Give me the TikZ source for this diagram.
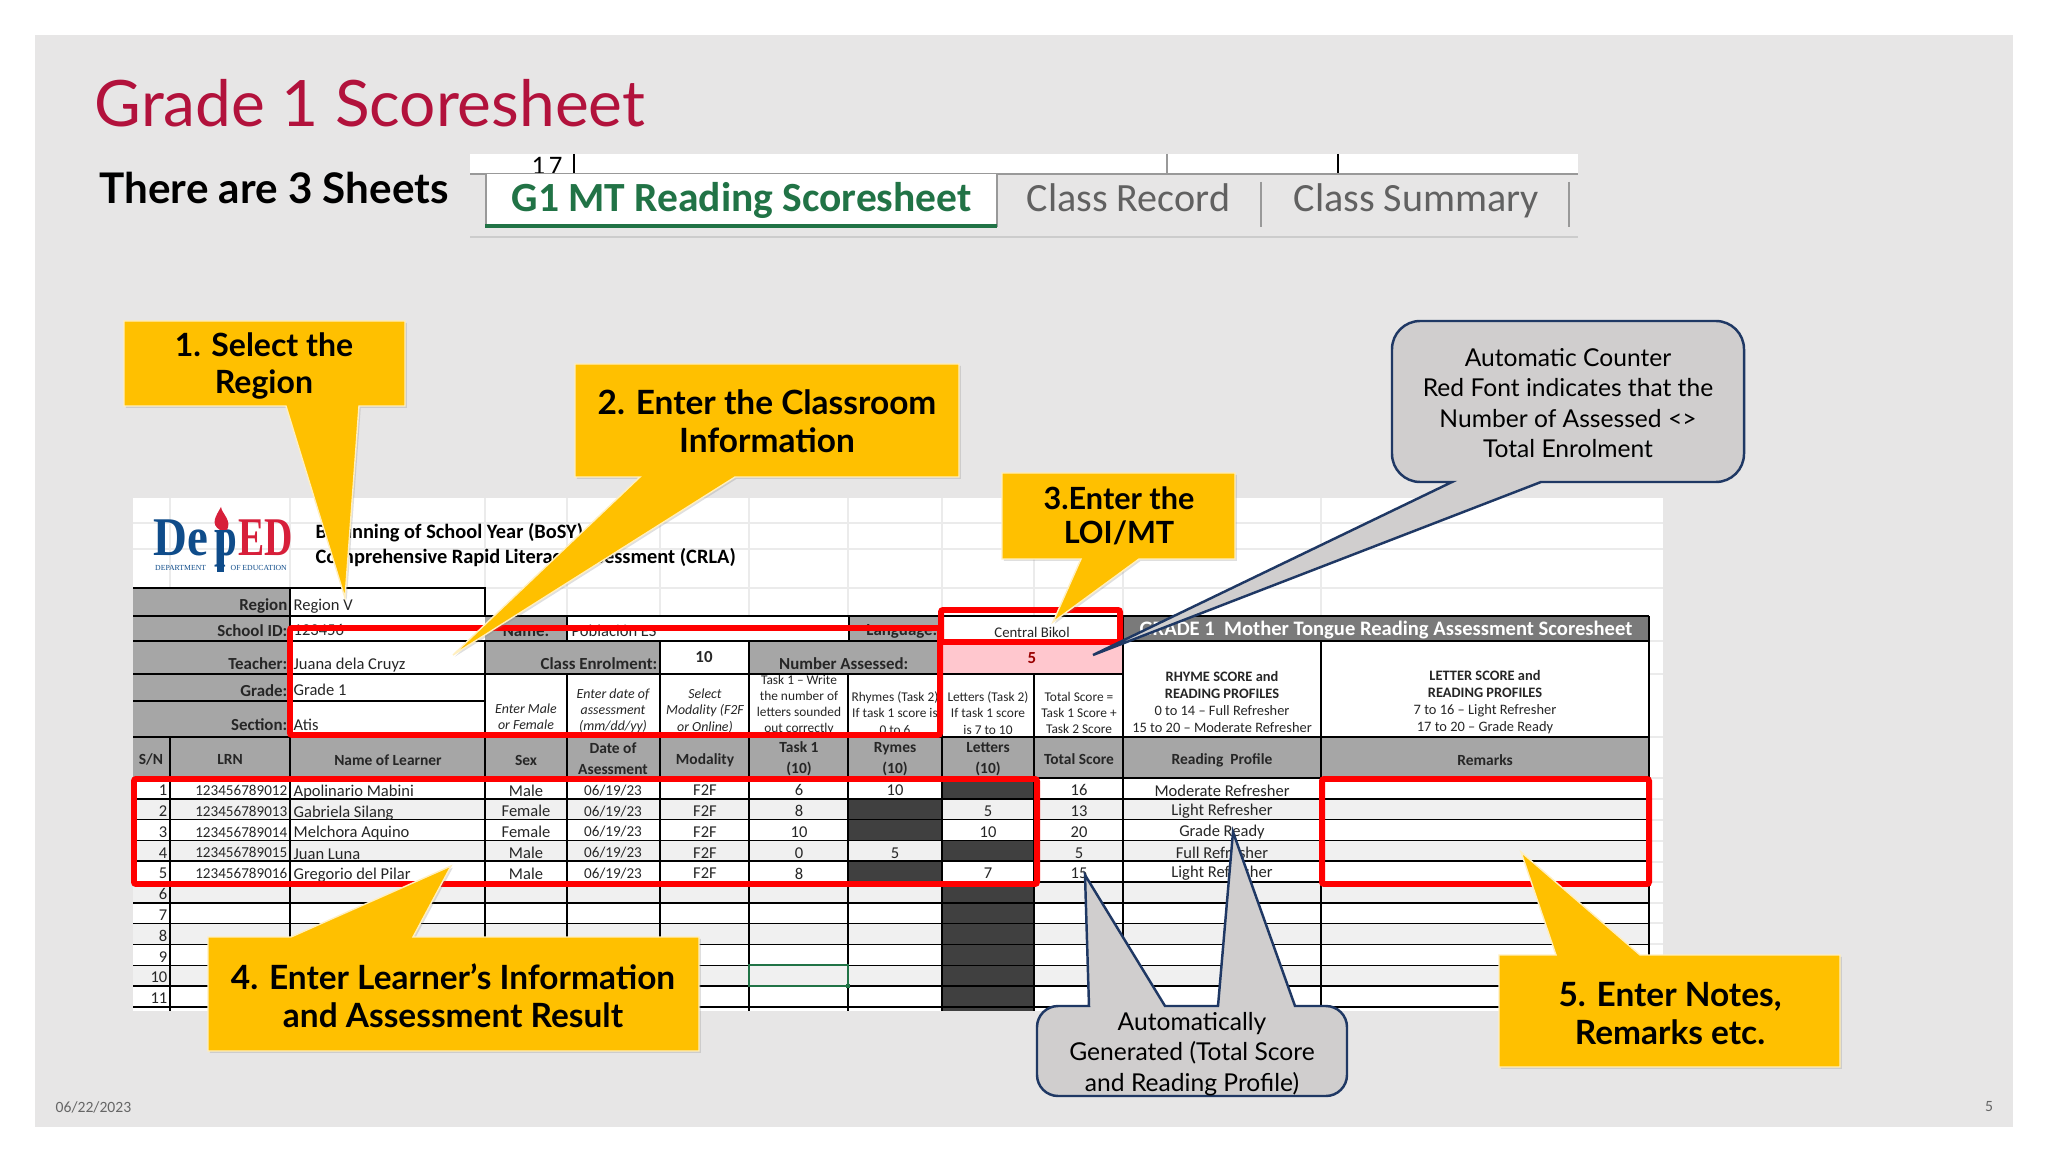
\documentclass[tikz,border=0pt]{standalone}
\usepackage{fontspec}
\usepackage{xcolor}
\setmainfont{Carlito}
\newfontfamily\gillfont{Lato}
\newfontfamily\logofont{Liberation Serif}
\usetikzlibrary{shadows}
\definecolor{slidegray}{HTML}{E7E6E6}
\definecolor{titlered}{HTML}{B2123C}
\definecolor{callyellow}{HTML}{FFC000}
\definecolor{callgray}{HTML}{D0CECE}
\definecolor{callnavy}{HTML}{1F3864}
\definecolor{headgray}{HTML}{A6A6A6}
\definecolor{darkcell}{HTML}{404040}
\definecolor{tabgreen}{HTML}{217346}
\definecolor{pinkcell}{HTML}{FFC7CE}
\definecolor{logoblue}{HTML}{0F4C8A}
\definecolor{logored}{HTML}{D71F3A}
\tikzset{
    cell/.style={inner sep=0pt, align=center, text=black!85, font=\fontsize{4.7}{5.6}\selectfont},
    numcell/.style={cell, font=\fontsize{4.3}{5.6}\selectfont},
    boldcell/.style={cell, font=\fontsize{4.8}{5.6}\selectfont\bfseries},
    headcell/.style={cell, font=\fontsize{4.4}{5.9}\selectfont\bfseries},
    hintcell/.style={cell, font=\fontsize{3.95}{4.6}\selectfont\itshape},
    notecell/.style={cell, font=\fontsize{3.8}{4.6}\selectfont},
    leftcell/.style={cell, anchor=west},
    labelcell/.style={boldcell, anchor=east},
    redbox/.style={draw=red, line width=1.7pt, rounded corners=0.6pt},
    yellowcall/.style={fill=callyellow, draw=white!75!callyellow, line width=0.4pt,
        drop shadow={opacity=0.25, shadow xshift=0.5pt, shadow yshift=-0.5pt}},
    graycall/.style={fill=callgray, draw=callnavy, line width=0.7pt},
    yellowtext/.style={inner sep=0pt, align=center, font=\gillfont\fontsize{9.5}{10.8}\selectfont\bfseries},
    graytext/.style={inner sep=0pt, align=center, font=\gillfont\fontsize{7}{8.6}\selectfont},
    tabtext/.style={inner sep=0pt, text=black!62, font=\fontsize{11.4}{12}\selectfont},
}
\begin{document}
\begin{tikzpicture}[x=0.01cm, y=-0.01cm]
    \useasboundingbox (0,0) rectangle (2048,1161);
    \fill[slidegray] (35,35) rectangle (2013,1127);

    % title line
    \node[inner sep=0pt, anchor=west, text=titlered, font=\gillfont\fontsize{18.2}{20}\selectfont] (title) at (94,103) {Grade 1 Scoresheet};
    \node[inner sep=0pt, anchor=west, font=\gillfont\fontsize{12}{13}\selectfont\bfseries] (sheets) at (99,188) {There are 3 Sheets};

    % sheet tabs
    \fill[white] (470,154) rectangle (1578,174);
    \node[inner sep=0pt, font=\fontsize{7.6}{8}\selectfont] (rownum) at (547,166) {1\hspace{1pt}7};
    \draw[black] (574,154) -- (574,174);
    \draw[black!40] (1167,154) -- (1167,174);
    \draw[black] (1338,154) -- (1338,174);
    \draw[black!40, line width=0.5pt] (470,174) -- (1578,174);
    \draw[black!20, line width=0.5pt] (470,237) -- (1578,237);
    \fill[white] (486,174) rectangle (997,227);
    \draw[black!40, line width=0.5pt] (486,174) -- (486,227);
    \draw[black!40, line width=0.5pt] (997,174) -- (997,227);
    \draw[tabgreen, line width=0.9pt] (485,226) -- (997,226);
    \node[tabtext, anchor=base west, text=tabgreen, font=\fontsize{11.8}{12}\selectfont\bfseries] (tabscore) at (511,212) {G1 MT Reading Scoresheet};
    \node[tabtext, anchor=base west] (tabrecord) at (1026,212) {Class Record};
    \node[tabtext, anchor=base west] (tabsummary) at (1293,212) {Class Summary};
    \draw[black!40] (1261,182) -- (1261,227);
    \draw[black!40] (1569,182) -- (1569,227);

    % sheet background and faint grid
    \fill[white] (133,498) rectangle (1663,1011);
    \foreach \gy in {523,549,588}
        \draw[black!8] (133,\gy) -- (1663,\gy);
    \foreach \gx in {170,290,485,567,660,749,848,942,1034,1123,1321}
        \draw[black!8] (\gx,498) -- (\gx,615);
    \foreach \gy in {641,674,737,778,799,820,841,862,882,903,923,944,965,986,1006}
        \draw[black!8] (1649,\gy) -- (1663,\gy);

    % logo
    \node[inner sep=0pt, anchor=base west, text=logoblue, font=\logofont\fontsize{15.5}{16}\selectfont\bfseries] (logode) at (153,556) {\scalebox{0.86}[1]{De}};
    \node[inner sep=0pt, anchor=base west, text=logoblue, font=\logofont\fontsize{15.5}{16}\selectfont\bfseries] (logop) at (214,556) {\scalebox{0.75}[1]{p}};
    \node[inner sep=0pt, anchor=base west, text=logored, font=\logofont\fontsize{15.5}{16}\selectfont\bfseries] (logoed) at (238,556) {\scalebox{0.72}[1]{ED}};
    \fill[logored] (220,530) .. controls (210,524) and (216,516) .. (221,507)
        .. controls (222,514) and (232,520) .. (227,530) -- cycle;
    \fill[logoblue] (217,530) rectangle (224,572);
    \node[inner sep=0pt, text=logoblue, font=\logofont\fontsize{2.2}{3}\selectfont] (logosmall) at (221,568) {DEPARTMENT\hspace{7pt}OF EDUCATION};

    \node[inner sep=0pt, anchor=west, font=\fontsize{5.8}{7}\selectfont\bfseries] (bosy) at (315,533) {Beginning of School Year (BoSY)};
    \node[inner sep=0pt, anchor=west, font=\fontsize{5.8}{7}\selectfont\bfseries] (crla) at (315,558) {Comprehensive Rapid Literacy Assessment (CRLA)};

    % filled cells of the form
    \fill[headgray] (133,588) rectangle (290,737);
    \fill[headgray] (485,616) rectangle (567,641);
    \fill[headgray] (849,616) rectangle (941,641);
    \fill[headgray] (485,641) rectangle (660,674);
    \fill[headgray] (749,641) rectangle (941,674);
    \fill[pinkcell] (941,641) rectangle (1123,674);
    \fill[black!52] (1123,615) rectangle (1649,641);
    \fill[headgray] (133,737) rectangle (1649,778);

    % rows of the table
    \foreach \n in {2,4,6,8,10}{
        \pgfmathsetmacro\ya{778+(\n-1)*20.8}
        \fill[black!6] (133,\ya) rectangle (1649,\ya+20.8);
    }
    \foreach \x/\n in {848/2,848/3,848/5,942/1,942/4,942/6,942/7,942/8,942/9,942/10,942/11}{
        \pgfmathsetmacro\ya{778+(\n-1)*20.8}
        \pgfmathsetmacro\xb{\x==848 ? 942 : 1034}
        \fill[darkcell] (\x,\ya) rectangle (\xb,\ya+20.8);
    }
    \fill[darkcell] (942,1005) rectangle (1034,1011);

    % form lines
    \draw[black, line width=0.6pt] (133,588) -- (485,588) -- (485,616);
    \draw[black, line width=0.5pt] (133,616) -- (1649,616);
    \draw[black, line width=0.4pt] (133,641) -- (1649,641);
    \draw[black, line width=0.4pt] (133,674) -- (1123,674);
    \draw[black, line width=0.4pt] (133,701) -- (485,701);
    \draw[black, line width=0.5pt] (133,737) -- (1649,737);
    \draw[black, line width=0.5pt] (133,778) -- (1649,778);
    \draw[black, line width=0.4pt] (290,588) -- (290,1011);
    \foreach \x in {170,485,567,660,749,848,942,1034,1123,1321}
        \draw[black, line width=0.4pt] (\x,737) -- (\x,1011);
    \draw[black, line width=0.4pt] (485,641) -- (485,737);
    \foreach \x in {567,849}
        \draw[black, line width=0.4pt] (\x,616) -- (\x,641);
    \foreach \x in {567,660,749,848,942,1034}
        \draw[black, line width=0.4pt] (\x,674) -- (\x,737);
    \foreach \x in {660,749,941}
        \draw[black, line width=0.4pt] (\x,641) -- (\x,674);
    \draw[black, line width=0.4pt] (941,616) -- (941,641);
    \draw[black, line width=0.4pt] (1123,616) -- (1123,737);
    \draw[black, line width=0.4pt] (1321,641) -- (1321,737);
    \draw[black, line width=0.6pt] (1649,616) -- (1649,1006);
    \foreach \n in {1,...,11}{
        \pgfmathsetmacro\ya{778+\n*20.8}
        \draw[black, line width=0.4pt] (133,\ya) -- (1649,\ya);
    }

    % form texts
    \node[labelcell] (lregion) at (288,606) {Region};
    \node[labelcell] (lschool) at (288,631) {School ID:};
    \node[labelcell] (lteacher) at (288,664) {Teacher:};
    \node[labelcell] (lgrade) at (288,691) {Grade:};
    \node[labelcell] (lsection) at (288,725) {Section:};
    \node[leftcell] (region) at (293,606) {Region V};
    \node[leftcell] (school) at (293,630) {123456};
    \node[leftcell] (teacher) at (293,665) {Juana dela Cruyz};
    \node[leftcell] (grade) at (293,690) {Grade 1};
    \node[leftcell] (section) at (293,725) {Atis};
    \node[boldcell] (lname) at (526,631) {Name:};
    \node[leftcell] (schoolname) at (571,631) {Población ES};
    \node[boldcell, anchor=east] (llang) at (938,631) {Language:};
    \node[cell, font=\fontsize{4.2}{5}\selectfont] (lang) at (1032,632) {Central Bikol};
    \node[boldcell, anchor=east] (lenrol) at (658,664) {Class Enrolment:};
    \node[boldcell] (enrol) at (704,657) {10};
    \node[boldcell, anchor=east] (lassess) at (909,664) {Number Assessed:};
    \node[boldcell, text=red!60!black] (assess) at (1032,658) {5};
    \node[cell, text=white, font=\fontsize{5.85}{6}\selectfont\bfseries] (banner) at (1386,630) {GRADE 1\ \ Mother Tongue Reading Assessment Scoresheet};

    \node[hintcell] (hsex) at (526,717) {Enter Male\\or Female};
    \node[hintcell] (hdate) at (613,711) {Enter date of\\assessment\\(mm/dd/yy)};
    \node[hintcell] (hmode) at (705,711) {Select\\Modality (F2F\\or Online)};
    \node[notecell] (htask) at (799,705) {Task 1 -- Write\\the number of\\letters sounded\\out correctly};
    \node[notecell] (hrhyme) at (895,713) {Rhymes (Task 2)\\If task 1 score is\\0 to 6};
    \node[notecell] (hletter) at (988,713) {Letters (Task 2)\\If task 1 score\\is 7 to 10};
    \node[notecell] (htotal) at (1079,713) {Total Score =\\Task 1 Score +\\Task 2 Score};
    \node[notecell, font=\fontsize{4.1}{4.9}\selectfont] (hrprof) at (1222,702) {\textbf{RHYME SCORE and}\\\textbf{READING PROFILES}\\0 to 14 -- Full Refresher\\15 to 20 -- Moderate Refresher};
    \node[notecell, font=\fontsize{4.1}{4.9}\selectfont] (hlprof) at (1485,702) {\textbf{LETTER SCORE and}\\\textbf{READING PROFILES}\\7 to 16 -- Light Refresher\\17 to 20 -- Grade Ready};

    % column heads
    \node[headcell] (hsn) at (151,759) {S/N};
    \node[headcell] (hlrn) at (230,759) {LRN};
    \node[headcell] (hname) at (388,760) {Name of Learner};
    \node[headcell] (hsexb) at (526,760) {Sex};
    \node[headcell] (hdateb) at (613,759) {Date of\\Asessment};
    \node[headcell] (hmodeb) at (705,760) {Modality};
    \node[headcell] (htaskb) at (799,759) {Task 1\\(10)};
    \node[headcell] (hrym) at (895,759) {Rymes\\(10)};
    \node[headcell] (hlet) at (988,759) {Letters\\(10)};
    \node[headcell] (htot) at (1079,759) {Total Score};
    \node[headcell] (hprof) at (1222,760) {Reading\ \ Profile};
    \node[headcell] (hrem) at (1485,760) {Remarks};

    % learners
    \foreach \n/\lrn/\who/\gender/\tone/\rym/\ltr/\tots/\prof in {
        1/123456789012/Apolinario Mabini/Male/6/10//16/Moderate Refresher,
        2/123456789013/Gabriela Silang/Female/8//5/13/Light Refresher,
        3/123456789014/Melchora Aquino/Female/10//10/20/Grade Ready,
        4/123456789015/Juan Luna/Male/0/5//5/Full Refresher,
        5/123456789016/Gregorio del Pilar/Male/8//7/15/Light Refresher}{
        \pgfmathsetmacro\ym{778+(\n-0.5)*20.8+2}
        \node[numcell, anchor=east] (lrn\n) at (288,\ym) {\lrn};
        \node[leftcell] (who\n) at (293,\ym+1.5) {\who};
        \node[cell] (sex\n) at (526,\ym) {\gender};
        \node[numcell] (date\n) at (613,\ym) {06/19/23};
        \node[cell] (mode\n) at (705,\ym) {F2F};
        \node[cell] (tone\n) at (799,\ym) {\tone};
        \node[cell] (rym\n) at (895,\ym) {\rym};
        \node[cell] (ltr\n) at (988,\ym) {\ltr};
        \node[cell] (tot\n) at (1079,\ym) {\tots};
        \node[cell] (prof\n) at (1222,\ym) {\prof};
    }
    \foreach \n in {1,...,11}{
        \pgfmathsetmacro\ym{778+(\n-0.5)*20.8+2}
        \node[cell, anchor=east] (sn\n) at (168,\ym) {\n};
    }
    \draw[tabgreen, line width=0.4pt] (749,965) rectangle (848,986);
    \fill[tabgreen] (846,984) rectangle (850,988);

    % red frames
    \draw[redbox] (290,628) rectangle (940,735);
    \draw[redbox] (941,610) rectangle (1120,642);
    \draw[redbox] (134,779) rectangle (1037,884);
    \draw[redbox] (1322,779) rectangle (1649,884);

    % yellow callouts
    \draw[yellowcall] (124,321) -- (405,321) -- (405,406) -- (359,406) -- (345,598) -- (286,406) -- (124,406) -- cycle;
    \node[yellowtext, font=\gillfont\fontsize{9.1}{10.8}\selectfont\bfseries] (step1) at (264,366) {1. Select the\\Region};
    \draw[yellowcall] (575,364) -- (959,364) -- (959,477) -- (735,477) -- (453,655) -- (640,477) -- (575,477) -- cycle;
    \node[yellowtext] (step2) at (767,421) {2. Enter the Classroom\\Information};
    \draw[yellowcall] (1002,473) -- (1235,473) -- (1235,559) -- (1139,559) -- (1053,622) -- (1081,559) -- (1002,559) -- cycle;
    \node[yellowtext, font=\gillfont\fontsize{8.7}{9.6}\selectfont\bfseries] (step3) at (1119,516) {3.Enter the\\LOI/MT};
    \draw[yellowcall] (208,937) -- (291,937) -- (451,866) -- (413,937) -- (699,937) -- (699,1051) -- (208,1051) -- cycle;
    \node[yellowtext] (step4) at (453,996) {4. Enter Learner’s Information\\and Assessment Result};
    \draw[yellowcall] (1499,955) -- (1556,955) -- (1521,852) -- (1640,955) -- (1840,955) -- (1840,1067) -- (1499,1067) -- cycle;
    \node[yellowtext] (step5) at (1670,1014) {5. Enter Notes,\\Remarks etc.};

    % gray callouts
    \draw[graycall] (1541,482) [rounded corners=8pt] -- (1744,482) -- (1744,321) -- (1392,321) -- (1392,482) [sharp corners] -- (1452,482) -- (1093,655) -- cycle;
    \node[graytext] (counter) at (1568,403) {Automatic Counter\\Red Font indicates that the\\Number of Assessed <>\\Total Enrolment};
    \draw[graycall] (1295,1006) [rounded corners=6pt] -- (1347,1006) -- (1347,1096) -- (1037,1096) -- (1037,1006) [sharp corners] -- (1089,1006) -- (1085,875) -- (1165,1006) -- (1218,1006) -- (1233,832) -- cycle;
    \node[graytext] (autogen) at (1192,1054) {Automatically\\Generated (Total Score\\and Reading Profile)};

    % footer
    \node[inner sep=0pt, anchor=west, text=black!60, font=\fontsize{4.45}{5}\selectfont] (footdate) at (55,1107) {06/22/2023};
    \node[inner sep=0pt, text=black!60, font=\fontsize{4.45}{5}\selectfont] (footpage) at (1989,1107) {5};
\end{tikzpicture}
\end{document}
